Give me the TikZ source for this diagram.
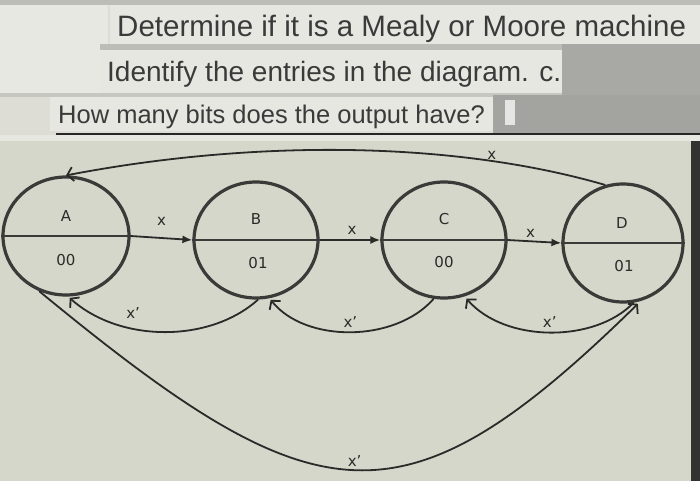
\documentclass[tikz,border=0pt]{standalone}
\usepackage{fontspec}
\setmainfont{DejaVu Sans}
\newfontfamily\headfont{Liberation Sans}
\usetikzlibrary{shapes.geometric,arrows.meta,calc}
\definecolor{diagbg}{HTML}{D5D7CA}
\definecolor{topbg}{HTML}{DDDDD6}
\definecolor{boxbg}{HTML}{E7E7E1}
\definecolor{darkbg}{HTML}{A8A8A4}
\definecolor{midgrey}{HTML}{BDBDB8}
\definecolor{circ}{HTML}{3A3A38}
\definecolor{ink}{HTML}{2A2A28}
\definecolor{headink}{HTML}{3A3A3A}
\begin{document}
\begin{tikzpicture}[x=1pt,y=-1pt,
  state/.style={ellipse, draw=circ, line width=3.2pt, fill=diagbg, inner sep=0pt},
  split/.style={draw=circ, line width=1.6pt},
  lbl/.style={font=\fontsize{15}{17}\selectfont, text=ink, inner sep=0pt},
  elbl/.style={font=\fontsize{15}{17}\selectfont, text=ink, inner sep=0pt},
  fwd/.style={draw=ink, line width=1.8pt, -{Latex[length=10pt,width=8pt]}},
  back/.style={draw=ink, line width=1.8pt, -{Straight Barb[length=6pt,width=14pt,line width=1.8pt]}},
  head/.style={font=\headfont\fontsize{28}{30}\selectfont, text=headink, anchor=base west, inner sep=0pt}
]
\useasboundingbox (0,0) rectangle (700,481);
% backgrounds
\fill[diagbg] (0,0) rectangle (700,481);
\fill[topbg] (0,0) rectangle (700,135);
\fill[midgrey] (0,0) rectangle (700,5);
\fill[boxbg!96!white] (0,5) rectangle (108,95);
\fill[boxbg] (110,5) rectangle (700,44);
\fill[midgrey] (100,44) rectangle (700,50);
\fill[darkbg] (562,44) rectangle (700,133);
\fill[boxbg] (100,50) rectangle (562,93);
\fill[midgrey!70!topbg] (0,93) rectangle (562,97);
\fill[topbg] (0,97) rectangle (50,131);
\fill[boxbg] (50,97) rectangle (493,131);
\fill[darkbg!97!black] (493,95) rectangle (700,133);
\fill[white!70!darkbg] (505,100) rectangle (515,125);
\fill[boxbg] (0,135) rectangle (700,141);
\fill[black!70!darkbg] (691,141) rectangle (700,481);
\draw[black!85, line width=2pt] (56,134) -- (700,134);
% heading texts
\node[head, font=\headfont\fontsize{29.5}{31}\selectfont] (t1) at (117,37) {Determine if it is a Mealy or Moore machine};
\node[head] (t2) at (107,82) {Identify the entries in the diagram. c.};
\node[head, font=\headfont\fontsize{25.5}{27}\selectfont] (t3) at (58,124) {How many bits does the output have?};
% states
\node[state, minimum width=126pt, minimum height=118pt] (A) at (66,236) {};
\node[state, minimum width=124pt, minimum height=116pt] (B) at (256,240) {};
\node[state, minimum width=124pt, minimum height=116pt] (C) at (444,240) {};
\node[state, minimum width=120pt, minimum height=118pt] (D) at (623,243) {};
\draw[split] (A.west) -- (A.east);
\draw[split] (B.west) -- (B.east);
\draw[split] (C.west) -- (C.east);
\draw[split] (D.west) -- (D.east);
\node[lbl] (An) at (66,216) {A};
\node[lbl] (Ao) at (66,260) {00};
\node[lbl] (Bn) at (256,219) {B};
\node[lbl] (Bo) at (258,263) {01};
\node[lbl] (Cn) at (444,219) {C};
\node[lbl] (Co) at (444,262) {00};
\node[lbl] (Dn) at (622,223) {D};
\node[lbl] (Do) at (624,266) {01};
% forward transitions
\draw[fwd] (A.east) -- node[elbl, midway, yshift=17pt] (lAB) {x} (B.west);
\draw[fwd] (B.east) -- node[elbl, midway, xshift=2pt, yshift=10pt] (lBC) {x} (C.west);
\draw[fwd] (C.east) -- node[elbl, midway, xshift=-4pt, yshift=8pt] (lCD) {x} (D.west);
% top return
\draw[back] (D.107) .. controls (450,140) and (250,140) .. node[elbl, pos=0.23, yshift=6pt] (lDA) {x} (A.north);
% bottom returns
\draw[back, shorten >=2pt] (B.272) .. controls (210,343) and (120,343) .. node[elbl, pos=0.65, yshift=15pt] (lBA) {x’} (A.272);
\draw[back, shorten >=2pt] (C.260) .. controls (395,343) and (305,343) .. node[elbl, pos=0.5, yshift=10pt] (lCB) {x’} (B.283);
\draw[back, shorten >=3pt] (D.280) .. controls (595,343) and (505,343) .. node[elbl, pos=0.5, yshift=10pt] (lDC) {x’} (C.290);
\draw[back, shorten >=4pt] (A.244) .. controls (317,520) and (402,535) .. node[elbl, pos=0.5, yshift=9pt] (lAD) {x’} (D.287);
\end{tikzpicture}
\end{document}
